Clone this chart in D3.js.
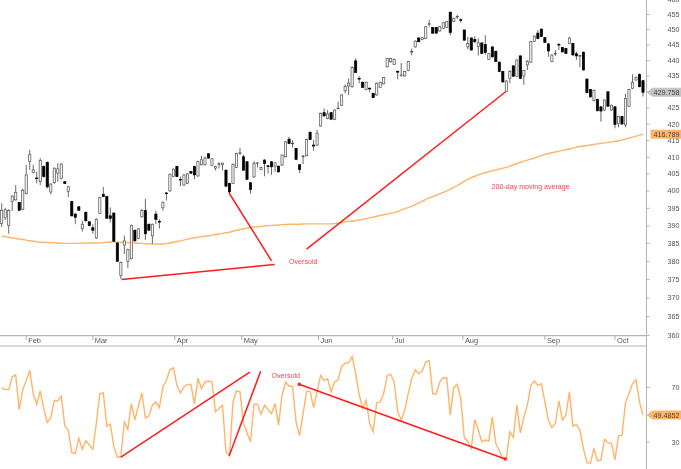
<!DOCTYPE html>
<html>
<head>
<meta charset="utf-8">
<style>
  html, body { margin: 0; padding: 0; background: #fff; }
  text { font-family: "Liberation Sans", Arial, sans-serif; }
</style>
<script src="https://cdn.jsdelivr.net/npm/d3@7"></script>
</head>
<body>
<div id="chart"></div>
<script>
// daily candles
var opens = [390.5,392.2,390,396.9,397.3,396.5,394.6,399.1,408.6,405.3,
  403.7,402.6,407.1,408.3,399.6,402.3,405.1,403.6,402.6,399.8,
  396.8,393.2,395.3,389,393.7,391,389.3,386.4,393.4,398.9,
  398.3,392.7,393.5,385,376,384.4,379.9,380.6,388.6,386.3,
  392.4,394.2,390.3,387,393.2,391.1,395,399.3,399.9,404.1,
  407.1,403.3,401.6,402.1,405.6,407.1,404.3,407.6,407.6,410.9,
  407.4,406.6,407.7,407.6,406,402.1,402.1,406.8,411,410,
  408.5,402.3,404,408,406.2,409,407.3,408.5,407.2,407.2,
  407.5,410,415.3,413.9,412.5,407.6,410,410.3,417.4,413.5,
  413.5,419.3,423.4,421.6,423.4,421.3,424.6,425.7,430.2,431.7,
  431.5,439.7,434.1,432.9,430.6,431,429.4,428.9,431.3,432.4,
  437.8,439.4,438.6,436.3,435,434.9,436.6,442.5,444.2,447.1,
  446.6,447,451.6,450.5,450.5,449.4,450.3,450.6,455.6,452.5,
  454,453.1,449.7,444.2,447.1,446.6,444.4,445.5,445,440.2,
  444.2,442.8,439.3,436.3,430,434.1,438.1,434.8,441.3,434.9,
  438.4,439.3,446,448.7,450,447.2,445.2,439.5,441.9,445,
  444,443.7,445.3,445.3,442,441.2,442.5,433.9,430.6,427.1,
  427.5,425.2,424.2,429.9,424.2,425.2,420.1,422.2,419.6,425.4,
  431,433.6,435.4,433.4];
var highs = [396.3,395,394.6,398.6,401.6,396.7,400.5,407.6,412.1,407.6,
  405.6,409.6,407.4,408.6,402.1,406.8,408.1,408.1,402.8,401.3,
  397,393.5,395.5,391.3,394,391.2,390.3,392,398.2,401.1,
  398.5,395.1,393.7,385.2,379.8,387.1,383.4,390.2,388.8,389.2,
  394.7,397.6,390.5,390.5,394.2,391.7,396.8,399.6,405,406.5,
  407.3,404.1,404.8,405.1,405.8,407.3,408.8,410.3,410.1,411.1,
  409.6,407.3,408.4,408.2,406.2,402.3,408,411.2,412.7,410.6,
  408.7,402.5,408.7,408.3,407,409.3,407.5,408.7,408.4,407.4,
  410.7,414.7,416,415,412.7,407.8,410.5,415.4,417.6,415,
  418.1,423.4,424.7,424.2,423.6,424.4,426.8,429.1,432.2,434.1,
  438,440.5,434.8,433.1,433.1,431.3,429.6,432.8,433.1,434.6,
  440.7,440.7,440.4,436.6,439,436.5,439.7,443.7,446.3,447.3,
  447.4,451,453,450.7,450.7,451,452.3,452.7,455.8,453.8,
  454.7,453.6,449.9,447.5,447.3,447.7,447,445.7,448,442.2,
  444.4,443,439.5,436.5,433.5,436.8,438.3,440.2,441.5,436.8,
  439.9,446.2,447.9,449.7,450.2,447.4,445.4,441.8,443.2,445.5,
  444.2,443.9,447.5,445.5,442.7,441.6,442.7,434.1,430.8,430.6,
  427.7,425.4,427.5,430.1,425.9,425.4,422.4,422.4,429.3,430.8,
  435.4,434.7,435.7,433.6];
var lows = [389.5,391.5,387.6,394.1,397.1,394.1,394.3,398.9,406.1,405.1,
  402.1,401.6,403.8,400.6,398.9,402,402.6,403.3,401.9,398.1,
  392.5,390.3,394.1,388.2,391,389.7,387.6,386.1,393.2,398.1,
  391.8,390.8,385.3,379.7,375,381.9,378,380.4,385.4,386.1,
  392.2,385.8,388.4,384.8,390.3,389.1,394.2,397.1,399.7,403.9,
  403.9,401.3,401.4,401.9,404.9,403.3,404.1,407.4,407.4,409.4,
  407.2,405.9,406.5,405.9,401,399.3,402,406.6,410.5,405.8,
  403.1,399.1,403.8,406.8,406,404.2,405,404.6,405.5,405.3,
  407.3,409.8,413.8,412.8,409,405.2,407.8,410.1,415,411.8,
  413.3,419.1,422.2,421.4,421.2,421.1,424.5,425.5,429.4,428.9,
  431.2,435.8,432.6,431.1,430.4,429.9,427.9,428.7,431.1,432.2,
  437.6,439.2,438.4,433.8,434.6,434.7,436.4,441.5,444,445.7,
  446.4,446.8,450.8,448.5,448.5,449.2,450.1,450.4,448,452.3,
  453.3,452.1,446.2,443.4,443,445.4,441.4,441.9,441.7,440,
  440.8,439.3,436.1,432.8,429.8,432.6,434.6,434.6,433.9,432.1,
  436.8,439.1,445.8,446.7,447.4,445.5,441,439.3,441.3,443.2,
  442.4,441.9,445.1,441.4,440,437.7,436.6,429.4,428.1,426.9,
  423.8,420.6,424,425.2,424,418.6,418.9,419.7,418.9,425.2,
  430.8,433.4,431.3,428.4];
var closes = [394.3,394.4,394.2,398.4,399.5,394.3,400.1,404.6,410.6,406.1,
  403.5,408.9,404.1,401.1,401.9,406.6,406.4,407.8,402.1,401.1,
  392.7,392.3,394.3,390.3,391.3,389.9,388.6,391.7,398,398.3,
  392,392,385.5,379.9,379.6,385.6,383.2,390,385.6,389,
  394.2,387.6,388.6,390.3,391.7,390.9,396.6,399.1,404.8,406.3,
  404.1,403.1,404.6,404.9,405.1,404.6,408.6,409.1,409.6,409.6,
  409.4,407.1,407.9,408.1,401.3,399.6,407.7,411,411.2,406,
  403.3,400.3,408,408.2,406.8,408,407.1,407,408.2,405.5,
  410.5,414.5,414,414.1,409.2,406.2,410.2,415.2,415.2,413.2,
  417.1,423.2,422.4,423,421.4,424.2,424.8,428.9,431.6,432.6,
  437.6,436,433.9,431.3,432.9,430.8,428.1,432.6,432.9,434.4,
  440.5,440.5,440.2,436.1,435.2,436.3,439.5,442.7,446.1,445.9,
  447.2,450.8,451.8,448.7,448.7,450.8,452.1,452.5,448.9,453.6,
  454.2,452.9,446.4,445.3,443.2,445.9,445.5,442.1,442.4,442,
  441,439.5,436.3,433,433.3,436.3,434.8,440,434.1,436.6,
  439.5,446,447.7,446.9,447.6,445.7,442.9,441.6,442.1,444.8,
  442.6,442.1,447.1,441.6,441.3,441.4,436.8,429.6,428.3,430.4,
  424,423.9,427.3,425.4,425.7,419.8,422.2,419.9,427.8,430.6,
  432.8,434.5,431.5,429.758];

// 200-day moving average
var ma200 = [386.9,386.8,386.6,386.4,386.3,386.1,386,385.8,385.6,385.5,
  385.3,385.2,385.2,385.1,385.1,385,385,384.9,384.9,384.9,
  384.9,384.9,384.9,384.9,385,385,385,385,385,385.1,
  385.2,385.3,385.3,385.3,385.2,385.2,385.1,385.1,385,384.9,
  384.9,384.8,384.8,384.7,384.7,384.7,384.7,384.8,385,385.2,
  385.4,385.6,385.8,386.1,386.3,386.5,386.6,386.8,386.9,387,
  387.2,387.4,387.5,387.7,387.9,388,388.3,388.6,388.8,389,
  389.2,389.4,389.5,389.6,389.7,389.8,389.9,390,390,390.1,
  390.2,390.2,390.3,390.3,390.3,390.3,390.4,390.4,390.4,390.4,
  390.4,390.4,390.4,390.4,390.4,390.5,390.6,390.7,391,391.1,
  391.2,391.4,391.5,391.7,391.9,392.1,392.3,392.6,392.8,393,
  393.2,393.4,393.6,393.9,394.4,394.7,395.1,395.4,395.9,396.4,
  396.9,397.4,397.9,398.2,398.6,399,399.5,399.9,400.4,400.9,
  401.5,402.1,402.7,403.3,403.8,404.2,404.6,405,405.3,405.6,
  405.8,406.1,406.3,406.6,406.8,407.2,407.6,408,408.3,408.7,
  409,409.3,409.6,410,410.3,410.7,411,411.2,411.4,411.7,
  411.9,412.1,412.3,412.6,412.9,413.1,413.2,413.4,413.5,413.7,
  413.9,414,414.2,414.3,414.5,414.6,414.8,415,415.3,415.6,
  415.9,416.2,416.5,416.789];

// lower panel oscillator
var osc = [69.5,68.1,68.1,77.3,79,53.5,68.1,74.8,82.1,65.1,
  57.4,67.1,54.2,44.1,47.4,60.3,59.8,63.4,41.6,38.5,
  22,21.5,32.4,24.4,30.7,27.6,24.4,43.3,65.1,65.6,
  41.4,42.8,26.4,18.6,18.6,44.5,39,57.9,45.8,55.9,
  65.6,47.4,48.7,56.7,59.1,55,70,74.8,82.6,84,
  71.2,65.6,70,71.9,71.9,57.4,76.5,68.8,73.6,74.4,
  73.6,51.8,54.2,56.7,22.7,19.6,59.1,67.1,66.4,43.3,
  36.5,30,57.4,57.4,50.1,56.7,53.5,50.6,57.9,42.1,
  63.9,73.6,70.5,70.5,44.5,34.4,50.6,66.8,66.8,55,
  66.4,78.5,74.8,76,66.4,73.6,75.3,85,87.4,87.7,
  92.3,79.7,64.7,54.2,60.3,43.3,37.3,58.4,59.1,65.1,
  78.5,79.2,73.6,51.8,45.8,53,65.1,76,82.6,79.7,
  81.6,88.2,89.4,65.1,65.1,73.6,76.8,76.8,49.4,69.5,
  71.9,61.5,33.1,30,25.1,46.2,38.5,30,31.2,30.5,
  48.2,28.8,23.5,17.9,17.4,37.3,33.1,56.9,36.5,48.2,
  56.7,71.2,74.4,71.2,72.4,59.1,45.8,40.4,43.3,59.8,
  45.8,49.4,66.4,41.4,42.6,38.5,25.1,14.7,14.2,25.1,
  15.9,16.7,31.7,29.3,28.8,16.7,34.4,34.6,58.4,65.1,
  72.4,75.3,59.1,49.4852];

var months = ["Feb","Mar","Apr","May","Jun","Jul","Aug","Sep","Oct"];
var monthBars = [7,26,49.4,68.5,90.4,111.6,131.6,155,175];
var priceTicks = d3.range(360, 461, 5);
var oscTicks = [30, 70];

// red annotations: [bar, value, bar, value]
var priceLines = [[34.2,374.9,77.9,379],[64.9,399.3,77,380],[87,383.3,143.8,429.9]];
var oscLines = [[34,18.65,70.8,80.9],[64.9,19.6,73.9,81.6],[84.9,72,143.7,17.4]];

var width = 681, height = 469;
var axisX = 646.5;

// the reference is a slightly soft, resampled screenshot
var svg = d3.select("#chart").append("svg")
    .attr("width", width)
    .attr("height", height)
    .style("display", "block")
    .style("filter", "blur(0.3px)");

var x = d3.scaleLinear().domain([0, 183]).range([1.7, 643]);
var y = d3.scaleLog().domain([455, 360]).range([14, 335]);
var yOsc = d3.scaleLinear().domain([70, 30]).range([387, 441.7]);

var orange = "#ffb468", red = "#ff1c1c", frame = "#b4b4b4";

// frame lines
svg.append("line").attr("x1", 0).attr("x2", axisX).attr("y1", 335.7).attr("y2", 335.7)
    .attr("stroke", frame).attr("stroke-width", 1.2);
svg.append("line").attr("x1", 0).attr("x2", axisX).attr("y1", 346).attr("y2", 346)
    .attr("stroke", frame).attr("stroke-width", 1.2);

// price axis
var priceAxis = svg.append("g")
    .attr("transform", "translate(" + axisX + ",0)")
    .call(d3.axisRight(y).tickValues(priceTicks).tickFormat(d3.format("d")).tickSize(3).tickPadding(18));
var oscAxis = svg.append("g")
    .attr("transform", "translate(" + axisX + ",0)")
    .call(d3.axisRight(yOsc).tickValues(oscTicks).tickSize(3).tickPadding(18));
svg.selectAll(".domain").remove();
svg.append("line").attr("x1", axisX).attr("x2", axisX).attr("y1", 0).attr("y2", height)
    .attr("stroke", frame).attr("stroke-width", 1);
svg.selectAll(".tick line").attr("stroke", frame);
svg.selectAll(".tick text")
    .attr("fill", "#555")
    .attr("text-anchor", "end")
    .attr("x", 33)
    .style("font-family", '"Liberation Sans", Arial, sans-serif')
    .style("font-size", "7.2px");

// months
var monthG = svg.selectAll(".month")
    .data(months)
    .enter()
    .append("g")
    .attr("transform", function(d, i) { return "translate(" + x(monthBars[i]) + ",336)"; });
monthG.append("line").attr("y1", 0).attr("y2", 4).attr("stroke", "#999").attr("stroke-width", 0.8);
monthG.append("text")
    .attr("x", 2)
    .attr("y", 7.3)
    .attr("font-size", "7.4px")
    .attr("fill", "#555")
    .text(function(d) { return d; });

// moving average
svg.append("path")
    .attr("d", d3.line().curve(d3.curveBasis).x(function(d, i) { return x(i); }).y(function(d) { return y(d); })(ma200))
    .attr("fill", "none")
    .attr("stroke", orange)
    .attr("stroke-width", 1.4);

// candles
var candles = svg.selectAll(".candle")
    .data(opens)
    .enter()
    .append("g")
    .attr("transform", function(d, i) { return "translate(" + x(i) + ",0)"; });

candles.append("line")
    .attr("y1", function(d, i) { return y(highs[i]); })
    .attr("y2", function(d, i) { return y(lows[i]); })
    .attr("stroke", "#444")
    .attr("stroke-width", 0.8);

candles.append("rect")
    .attr("x", -1.1)
    .attr("width", 2.2)
    .attr("y", function(d, i) { return y(Math.max(opens[i], closes[i])); })
    .attr("height", function(d, i) { return Math.max(0.6, Math.abs(y(opens[i]) - y(closes[i]))); })
    .attr("fill", function(d, i) { return closes[i] >= opens[i] ? "#f4f4f4" : "#000"; })
    .attr("stroke", function(d, i) { return closes[i] >= opens[i] ? "#555" : "#000"; })
    .attr("stroke-width", 0.7);

// oscillator
svg.append("path")
    .attr("d", d3.line().x(function(d, i) { return x(i); }).y(function(d) { return yOsc(d); })(osc))
    .attr("fill", "none")
    .attr("stroke", orange)
    .attr("stroke-width", 1.4);

// red trend lines
function drawLines(rows, scale) {
    svg.selectAll(null)
        .data(rows)
        .enter()
        .append("line")
        .attr("x1", function(d) { return x(d[0]); })
        .attr("y1", function(d) { return scale(d[1]); })
        .attr("x2", function(d) { return x(d[2]); })
        .attr("y2", function(d) { return scale(d[3]); })
        .attr("stroke", red)
        .attr("stroke-width", 1.5);
}
drawLines(priceLines, y);
drawLines(oscLines, yOsc);

// square handles on the last line
var last = oscLines[2];
[[last[0], last[1]], [last[2], last[3]]].forEach(function(p) {
    svg.append("rect")
        .attr("x", x(p[0]) - 1.5)
        .attr("y", yOsc(p[1]) - 1.5)
        .attr("width", 3)
        .attr("height", 3)
        .attr("fill", red);
});

// notes
function note(bar, val, scale, s) {
    svg.append("text")
        .attr("x", x(bar))
        .attr("y", scale(val) + 2.6)
        .attr("font-size", "7.1px")
        .attr("fill", "#ff3c50")
        .text(s);
}
note(82, 379.8, y, "Oversold");
note(77, 78.5, yOsc, "Oversold");
note(139.8, 401.2, y, "200-day moving average");

// value tags
function tag(val, scale, s, fill, pointed) {
    var cy = scale(val);
    var d = pointed
        ? "M" + axisX + "," + cy + "L" + (axisX + 6) + "," + (cy - 4.5) + "L681," + (cy - 4.5) + "L681," + (cy + 4.5) + "L" + (axisX + 6) + "," + (cy + 4.5) + "Z"
        : "M" + (axisX + 4) + "," + (cy - 4.5) + "L681," + (cy - 4.5) + "L681," + (cy + 4.5) + "L" + (axisX + 4) + "," + (cy + 4.5) + "Z";
    svg.append("path").attr("d", d).attr("fill", fill);
    svg.append("text")
        .attr("x", 679.5)
        .attr("y", cy + 2.6)
        .attr("text-anchor", "end")
        .attr("font-size", "7.2px")
        .attr("fill", "#444")
        .text(s);
}
tag(closes[closes.length - 1], y, "429.758", "#c4c4c4", true);
tag(ma200[ma200.length - 1], y, "416.789", orange, false);
tag(osc[osc.length - 1], yOsc, "49.4852", orange, true);
</script>
</body>
</html>
